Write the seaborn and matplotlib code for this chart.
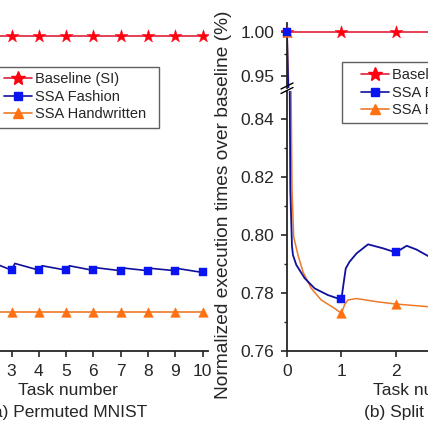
import matplotlib
matplotlib.use("Agg")
from matplotlib import pyplot as plt
from matplotlib.lines import Line2D
from matplotlib.patches import Rectangle
from matplotlib.ticker import FixedLocator, FormatStrFormatter
import numpy as np
import pandas as pd
import seaborn as sns

# ---- (a) Permuted MNIST ----
tasks_a = [1, 2, 3, 4, 5, 6, 7, 8, 9, 10]
base_a = [1.0] * 10
fashion_a_marks = [0.7880, 0.7880, 0.7879, 0.7879, 0.7879, 0.7878, 0.7877, 0.7877, 0.7877, 0.7871]
# value right after each task starts (sawtooth peaks)
fashion_a_peaks = [0.7915, 0.7912, 0.7902, 0.7894, 0.7894, 0.7887, 0.7886, 0.7885, 0.7884]
hand_a = [0.7734, 0.7734, 0.7734, 0.7734, 0.7734, 0.7734, 0.7734, 0.7734, 0.7734, 0.7734]

# ---- (b) Split MNIST ----
tasks_b = [0, 1, 2, 3, 4, 5]
base_b = [1.0] * 6
fashion_b_x = [0, 0.035, 0.061, 0.092, 0.11, 0.171, 0.325, 0.508, 0.752, 1.0, 1.03, 1.08,
               1.15, 1.28, 1.49, 1.77, 2.0, 2.2, 2.38, 2.59, 2.7]
fashion_b_y = [1.0, 0.90, 0.8155, 0.7960, 0.7931, 0.7897, 0.7851, 0.7816, 0.7793, 0.7777,
               0.7820, 0.7885, 0.7908, 0.7937, 0.7968, 0.7954, 0.7940, 0.7963, 0.7950,
               0.7928, 0.7922]
fashion_b_mx = [0, 1, 2]
fashion_b_my = [1.0, 0.7778, 0.7940]
hand_b_x = [0, 0.05, 0.092, 0.123, 0.202, 0.294, 0.446, 0.629, 0.875, 1.0, 1.06, 1.12,
            1.28, 1.65, 2.0, 2.59, 2.7]
hand_b_y = [1.0, 0.90, 0.8155, 0.7994, 0.7931, 0.7873, 0.7816, 0.7776, 0.7747, 0.7730,
            0.7760, 0.7776, 0.7781, 0.7770, 0.7762, 0.7753, 0.7751]
hand_b_mx = [0, 1, 2]
hand_b_my = [1.0, 0.7730, 0.7762]

labels = ["Baseline (SI)", "SSA Fashion", "SSA Handwritten"]

RED_L, RED_M = "#e0203a", "#ff0010"
BLUE_L, BLUE_M = "#10109a", "#0a14f0"
ORA_L, ORA_M = "#ec7a2a", "#ff7010"

sns.set_style("ticks")
plt.rcParams["font.family"] = ["Liberation Sans", "DejaVu Sans"]
plt.rcParams["xtick.direction"] = "out"
plt.rcParams["ytick.direction"] = "out"

W = 428.0
fig = plt.figure(figsize=(4.28, 4.28), dpi=100)
fig.patch.set_facecolor("white")


def frac(l, t, r, b):
    # pixel box -> figure fraction
    return [l / W, 1 - b / W, (r - l) / W, (b - t) / W]


ax_a_lo = fig.add_axes(frac(-73, 91, 208, 351))
ax_a_hi = fig.add_axes(frac(-73, 23, 208, 88))
ax_b_lo = fig.add_axes(frac(287, 91, 559, 351))
ax_b_hi = fig.add_axes(frac(287, 23, 559, 88))

for ax in [ax_a_lo, ax_a_hi, ax_b_lo, ax_b_hi]:
    ax.set_facecolor("none")
    for s in ["top", "right"]:
        ax.spines[s].set_visible(False)
    for s in ["left", "bottom"]:
        ax.spines[s].set_linewidth(1.3)
    ax.tick_params(labelsize=12.5, length=4.5, width=1.2, pad=4.5)
    ax.tick_params(which="minor", length=2.5, width=1.0)


def inside(df, ax, col="y"):
    lo, hi = ax.get_ylim()
    return df[(df[col] >= lo) & (df[col] <= hi)]


ax_a_lo.set_ylim(0.76, 0.8497)
ax_a_hi.set_ylim(0.94, 1.015)
ax_b_lo.set_ylim(0.76, 0.8497)
ax_b_hi.set_ylim(0.9364, 1.0102)

# sawtooth line for (a) fashion
saw_x, saw_y = [], []
for i, t in enumerate(tasks_a):
    saw_x.append(t)
    saw_y.append(fashion_a_marks[i])
    if i < len(fashion_a_peaks):
        saw_x.append(t + 0.12)
        saw_y.append(fashion_a_peaks[i])
df_saw = pd.DataFrame({"x": saw_x, "y": saw_y})
df_a = pd.DataFrame({"task": tasks_a, "base": base_a, "fash": fashion_a_marks, "hand": hand_a})

for ax in [ax_a_lo, ax_a_hi]:
    sns.lineplot(data=df_a, x="task", y="base", ax=ax, color=RED_L, lw=1.2, estimator=None)
    sns.scatterplot(data=inside(df_a, ax, "base"), x="task", y="base", ax=ax, marker="*",
                    s=95, color=RED_M, edgecolor=RED_M, linewidth=0.3, zorder=5)
    sns.lineplot(data=df_saw, x="x", y="y", ax=ax, color=BLUE_L, lw=1.2, estimator=None)
    sns.scatterplot(data=inside(df_a, ax, "fash"), x="task", y="fash", ax=ax, marker="s",
                    s=38, color=BLUE_M, edgecolor=BLUE_M, linewidth=0.3, zorder=5)
    sns.lineplot(data=df_a, x="task", y="hand", ax=ax, color=ORA_L, lw=1.2, estimator=None)
    sns.scatterplot(data=inside(df_a, ax, "hand"), x="task", y="hand", ax=ax, marker="^",
                    s=48, color=ORA_M, edgecolor=ORA_M, linewidth=0.3, zorder=5)
    ax.set_xlim(-0.1, 10.2)
    ax.set_xlabel("")
    ax.set_ylabel("")

ax_a_lo.set_ylim(0.76, 0.8497)
ax_a_hi.set_ylim(0.94, 1.015)
ax_a_lo.set_xticks(tasks_a)
ax_a_lo.set_yticks([])
ax_a_hi.set_xticks([])
ax_a_hi.set_yticks([])
ax_a_hi.spines["bottom"].set_visible(False)
ax_a_hi.spines["left"].set_visible(False)
ax_a_lo.spines["left"].set_visible(False)
ax_a_lo.set_xlabel("Task number", fontsize=12.5, labelpad=3)
ax_a_lo.text(0.5, -0.237, "(a) Permuted MNIST", transform=ax_a_lo.transAxes,
             ha="center", va="center", fontsize=12.5)

df_bb = pd.DataFrame({"task": tasks_b, "base": base_b})
df_bf = pd.DataFrame({"x": fashion_b_x, "y": fashion_b_y})
df_bh = pd.DataFrame({"x": hand_b_x, "y": hand_b_y})
df_bfm = pd.DataFrame({"x": fashion_b_mx, "y": fashion_b_my})
df_bhm = pd.DataFrame({"x": hand_b_mx, "y": hand_b_my})

for ax in [ax_b_lo, ax_b_hi]:
    sns.lineplot(data=df_bb, x="task", y="base", ax=ax, color=RED_L, lw=1.2, estimator=None)
    sns.scatterplot(data=inside(df_bb, ax, "base"), x="task", y="base", ax=ax, marker="*",
                    s=95, color=RED_M, edgecolor=RED_M, linewidth=0.3, zorder=5)
    sns.lineplot(data=df_bh, x="x", y="y", ax=ax, color=ORA_L, lw=1.1, estimator=None)
    sns.scatterplot(data=inside(df_bhm, ax), x="x", y="y", ax=ax, marker="^", s=48,
                    color=ORA_M, edgecolor=ORA_M, linewidth=0.3, zorder=5)
    sns.lineplot(data=df_bf, x="x", y="y", ax=ax, color=BLUE_L, lw=1.3, estimator=None)
    sns.scatterplot(data=inside(df_bfm, ax), x="x", y="y", ax=ax, marker="s", s=38,
                    color=BLUE_M, edgecolor=BLUE_M, linewidth=0.3, zorder=6)
    ax.set_xlim(0, 5)
    ax.set_xlabel("")
    ax.set_ylabel("")
    for c in ax.collections:
        c.set_clip_on(False)

ax_b_lo.set_ylim(0.76, 0.8497)
ax_b_hi.set_ylim(0.9364, 1.0102)
ax_b_lo.set_xticks(tasks_b)
ax_b_lo.yaxis.set_major_locator(FixedLocator([0.76, 0.78, 0.80, 0.82, 0.84]))
ax_b_lo.yaxis.set_minor_locator(FixedLocator([0.77, 0.79, 0.81, 0.83]))
ax_b_lo.yaxis.set_major_formatter(FormatStrFormatter("%.2f"))
ax_b_hi.yaxis.set_major_locator(FixedLocator([0.95, 1.00]))
ax_b_hi.yaxis.set_minor_locator(FixedLocator([0.975]))
ax_b_hi.yaxis.set_major_formatter(FormatStrFormatter("%.2f"))
ax_b_hi.set_xticks([])
ax_b_hi.spines["bottom"].set_visible(False)
ax_b_lo.set_xlabel("Task number", fontsize=12.5, labelpad=3)
ax_b_lo.text(0.5, -0.237, "(b) Split MNIST", transform=ax_b_lo.transAxes,
             ha="center", va="center", fontsize=12.5)

fig.text(224 / W, 1 - 205 / W, "Normalized execution times over baseline (%)",
         rotation=90, ha="center", va="center", fontsize=13.8)

# break marks on the (b) y axis
for dy in [0, 4.5]:
    fig.add_artist(Line2D([281 / W, 293 / W], [1 - (89 + dy) / W, 1 - (83 + dy) / W],
                          color="black", lw=1.0))

handles = [
    Line2D([], [], color=RED_L, marker="*", markersize=10, markerfacecolor=RED_M,
           markeredgecolor=RED_M, lw=1.2),
    Line2D([], [], color=BLUE_L, marker="s", markersize=6, markerfacecolor=BLUE_M,
           markeredgecolor=BLUE_M, lw=1.2),
    Line2D([], [], color=ORA_L, marker="^", markersize=7, markerfacecolor=ORA_M,
           markeredgecolor=ORA_M, lw=1.2),
]
leg_kw = dict(fontsize=10.5, handlelength=1.9, handletextpad=0.22, labelspacing=0.25,
              borderpad=0, frameon=False, borderaxespad=0)

# legend frames (pixel boxes)
for (l, t, r, b) in [(-5, 67, 159, 128), (342, 62, 520, 123)]:
    fig.add_artist(Rectangle((l / W, 1 - b / W), (r - l) / W, (b - t) / W,
                             transform=fig.transFigure, facecolor="white",
                             edgecolor="#606060", lw=1.0, zorder=4))

fig.legend(handles, labels, loc="upper left", bbox_to_anchor=(4 / W, 1 - 72 / W), **leg_kw)
fig.legend(handles, labels, loc="upper left", bbox_to_anchor=(361 / W, 1 - 68 / W), **leg_kw)

fig.savefig("out.png", dpi=100, facecolor="white")
